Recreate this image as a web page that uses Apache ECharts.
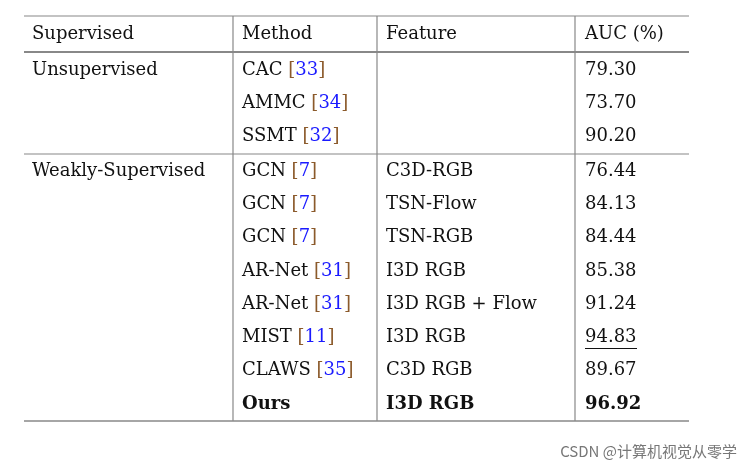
<!DOCTYPE html>
<html>
<head>
<meta charset="utf-8">
<script src="https://cdn.jsdelivr.net/npm/echarts@6/dist/echarts.min.js"></script>
<style>html,body{margin:0;padding:0;background:#fff}#main{width:751px;height:469px}</style>
</head>
<body>
<div id="main"></div>
<script>
const headers = ['Supervised', 'Method', 'Feature', 'AUC (%)']
const groups = ['Unsupervised', '', '', 'Weakly-Supervised', '', '', '', '', '', '', '']
const methods = ['CAC', 'AMMC', 'SSMT', 'GCN', 'GCN', 'GCN', 'AR-Net', 'AR-Net', 'MIST', 'CLAWS', 'Ours']
const cites = ['33', '34', '32', '7', '7', '7', '31', '31', '11', '35', '']
const features = ['', '', '', 'C3D-RGB', 'TSN-Flow', 'TSN-RGB', 'I3D RGB', 'I3D RGB + Flow', 'I3D RGB', 'C3D RGB', 'I3D RGB']
const auc = ['79.30', '73.70', '90.20', '76.44', '84.13', '84.44', '85.38', '91.24', '94.83', '89.67', '96.92']

const colX = [32, 242, 386, 585]
const lineX = [233, 377, 575]
const font = 'DejaVu Serif'
const fs = 18
const rowY = i => (i < 3 ? 70 + i * 33.2 : 171 + (i - 3) * 33.3)

const g = []
const txt = (x, y, text, extra) => g.push({
  type: 'text', x, y,
  style: Object.assign({ text, fontFamily: font, fontSize: fs, fill: '#111', verticalAlign: 'middle' }, extra || {})
})
headers.forEach((h, c) => txt(colX[c], 34, h))
methods.forEach((m, i) => {
  const y = rowY(i)
  const bold = m === 'Ours'
  if (groups[i]) txt(colX[0], y, groups[i])
  if (cites[i]) {
    txt(colX[1], y, '{m|' + m + ' }{b|[}{n|' + cites[i] + '}{b|]}', {
      rich: {
        m: { fontFamily: font, fontSize: fs, fill: '#111' },
        b: { fontFamily: font, fontSize: fs, fill: '#8b5a2b' },
        n: { fontFamily: font, fontSize: fs, fill: '#1a1aff' }
      }
    })
  } else txt(colX[1], y, m, { fontWeight: bold ? 'bold' : 'normal' })
  if (features[i]) txt(colX[2], y, features[i], { fontWeight: bold ? 'bold' : 'normal' })
  txt(colX[3], y, auc[i], { fontWeight: bold ? 'bold' : 'normal' })
  if (auc[i] === '94.83') g.push({ type: 'line', shape: { x1: colX[3], y1: y + 11, x2: colX[3] + 52, y2: y + 11 }, style: { stroke: '#111', lineWidth: 1 } })
})
const hl = (y, w) => g.push({ type: 'line', shape: { x1: 24, y1: y, x2: 689, y2: y }, style: { stroke: '#888', lineWidth: w } })
hl(16, 1.2); hl(52, 2); hl(154, 1.2); hl(421, 1.5)
lineX.forEach(x => g.push({ type: 'line', shape: { x1: x, y1: 16, x2: x, y2: 421 }, style: { stroke: '#888', lineWidth: 1.2 } }))
g.push({ type: 'text', x: 737, y: 451, style: { text: 'CSDN @计算机视觉从零学', fontFamily: 'Noto Sans CJK SC', fontSize: 15, fill: '#777', align: 'right', verticalAlign: 'middle' } })

const chart = echarts.init(document.getElementById('main'))
chart.setOption({ animation: false, graphic: g })
</script>
</body>
</html>
